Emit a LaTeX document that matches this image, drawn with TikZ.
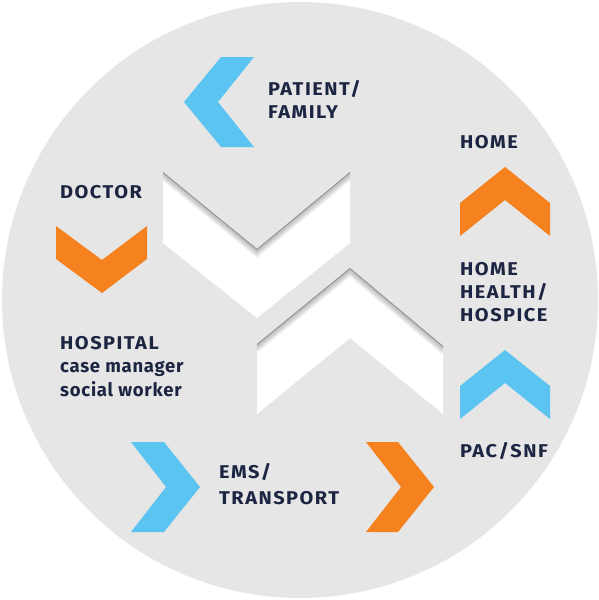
\documentclass[tikz,border=0pt]{standalone}
\usepackage{fontspec}
\setmainfont{Fira Sans}
\definecolor{circgray}{HTML}{E6E6E6}
\definecolor{chblue}{HTML}{5BC4F1}
\definecolor{chorange}{HTML}{F5821F}
\definecolor{navy}{HTML}{1C2541}
\tikzset{
  lab/.style={anchor=base west, inner sep=0pt, text=navy,
    font=\fontsize{18.5}{23}\selectfont\bfseries\addfontfeatures{LetterSpace=8,FakeStretch=1.08}},
  labsmall/.style={anchor=base west, inner sep=0pt, text=navy,
    font=\fontsize{18.5}{23}\selectfont\bfseries\addfontfeatures{LetterSpace=4}},
  bluech/.style={fill=chblue, draw=none},
  orangech/.style={fill=chorange, draw=none},
}
\begin{document}
\begin{tikzpicture}[x=1pt,y=-1pt]
\useasboundingbox (0,0) rectangle (599,600);
\fill[white] (0,0) rectangle (599,600);
\fill[circgray] (300,300) circle[radius=298];

% coloured chevrons
\fill[bluech] (221,57) -- (254,57) -- (218,102) -- (254,147) -- (221,147) -- (184,102) -- cycle;
\fill[orangech] (56,226) -- (102,260) -- (147,226) -- (147,259) -- (102,293) -- (56,259) -- cycle;
\fill[orangech] (505,167) -- (550,203) -- (550,236) -- (505,200) -- (460,236) -- (460,203) -- cycle;
\fill[bluech] (505,350) -- (550,386) -- (550,419) -- (505,383) -- (460,419) -- (460,386) -- cycle;
\fill[bluech] (131,442) -- (164,442) -- (200,487) -- (164,532) -- (131,532) -- (166,487) -- cycle;
\fill[orangech] (366,442) -- (398,442) -- (434,487) -- (398,532) -- (366,532) -- (401,487) -- cycle;

% white chevrons with inner shadow on top edges
\fill[white] (163,172) -- (257,249) -- (350,172) -- (350,243) -- (257,318) -- (163,243) -- cycle;
\begin{scope}
\clip (163,172) -- (257,249) -- (350,172) -- (350,243) -- (257,318) -- (163,243) -- cycle;
\foreach \w in {2,4,...,14}
  \draw[black, opacity=0.045, line width=\w pt] (160,169.5) -- (257,249) -- (353,169.5);
\draw[black!60, opacity=0.5, line width=1.5pt] (160,169.5) -- (257,249) -- (353,169.5);
\end{scope}

\fill[white] (350,268) -- (443,346) -- (443,414) -- (350,338) -- (257,414) -- (257,344) -- cycle;
\begin{scope}
\clip (350,268) -- (443,346) -- (443,414) -- (350,338) -- (257,414) -- (257,344) -- cycle;
\foreach \w in {2,4,...,14}
  \draw[black, opacity=0.045, line width=\w pt] (254,346.5) -- (350,268) -- (446,348.5);
\draw[black!60, opacity=0.5, line width=1.5pt] (254,346.5) -- (350,268) -- (446,348.5);
\end{scope}

% labels
\node[lab] (patientA) at (268,95) {PATIENT/};
\node[lab] (patientB) at (268,118) {FAMILY};
\node[lab] (home) at (460,148) {HOME};
\node[lab] (doctor) at (60,198) {DOCTOR};
\node[lab] (hhA) at (460,275) {HOME};
\node[lab] (hhB) at (460,298) {HEALTH/};
\node[lab] (hhC) at (460,321) {HOSPICE};
\node[lab] (hospA) at (60,349) {HOSPITAL};
\node[labsmall] (hospB) at (60,372) {case manager};
\node[labsmall] (hospC) at (60,396) {social worker};
\node[lab] (pac) at (460,457) {PAC/SNF};
\node[lab] (emsA) at (219,478) {EMS/};
\node[lab] (emsB) at (219,504) {TRANSPORT};
\end{tikzpicture}
\end{document}
